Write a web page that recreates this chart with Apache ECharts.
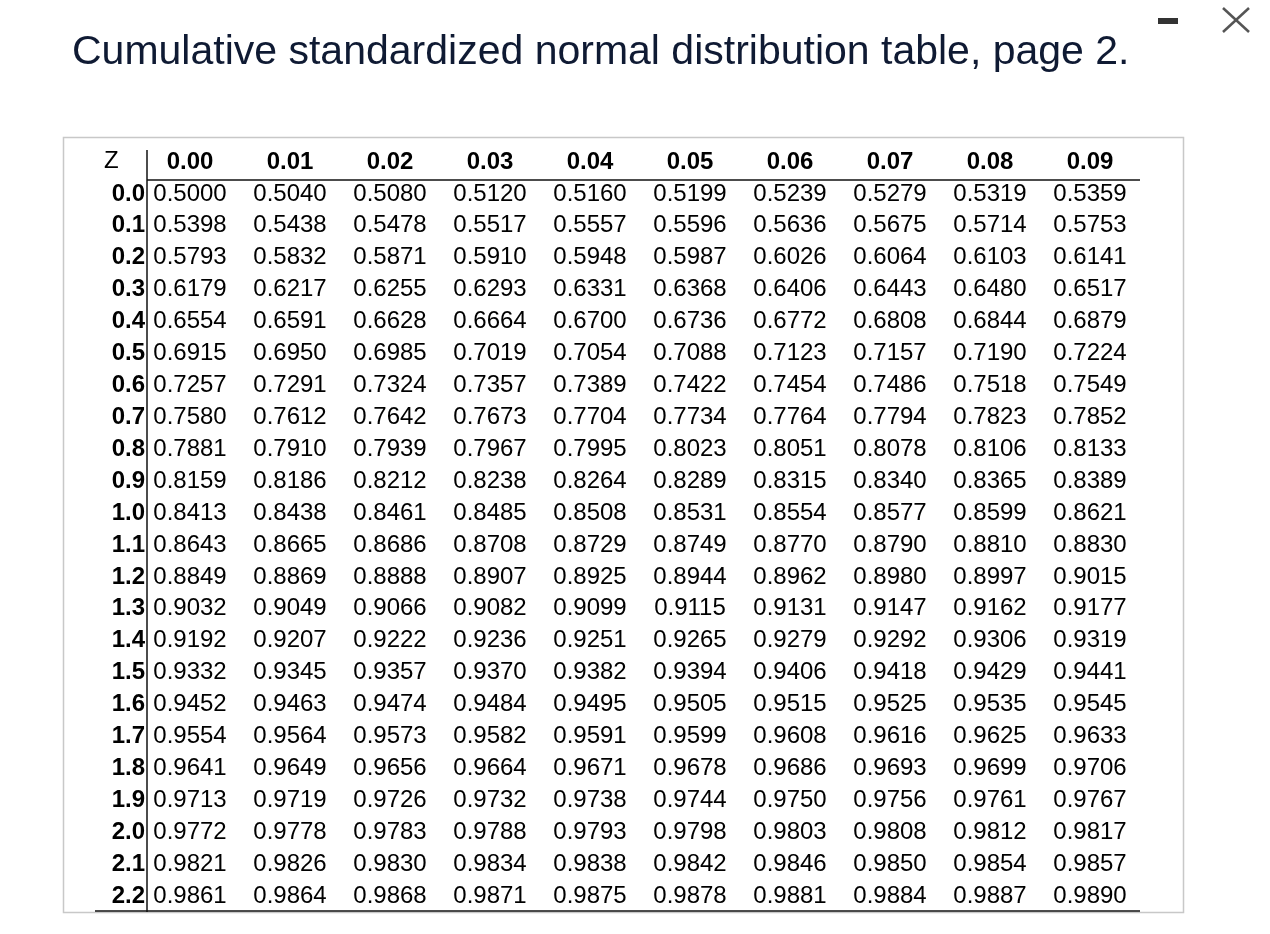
<!DOCTYPE html>
<html><head><meta charset="utf-8">
<script src="https://cdn.jsdelivr.net/npm/echarts@6/dist/echarts.min.js"></script>
<style>html,body{margin:0;padding:0;background:#fff}#c{width:1270px;height:934px}</style>
</head><body><div id="c"></div>
<script>
const colLabels = ['0.00','0.01','0.02','0.03','0.04','0.05','0.06','0.07','0.08','0.09'];
const rowLabels = ['0.0','0.1','0.2','0.3','0.4','0.5','0.6','0.7','0.8','0.9','1.0','1.1','1.2','1.3','1.4','1.5','1.6','1.7','1.8','1.9','2.0','2.1','2.2'];
const r00=[0.5000,0.5040,0.5080,0.5120,0.5160,0.5199,0.5239,0.5279,0.5319,0.5359];
const r01=[0.5398,0.5438,0.5478,0.5517,0.5557,0.5596,0.5636,0.5675,0.5714,0.5753];
const r02=[0.5793,0.5832,0.5871,0.5910,0.5948,0.5987,0.6026,0.6064,0.6103,0.6141];
const r03=[0.6179,0.6217,0.6255,0.6293,0.6331,0.6368,0.6406,0.6443,0.6480,0.6517];
const r04=[0.6554,0.6591,0.6628,0.6664,0.6700,0.6736,0.6772,0.6808,0.6844,0.6879];
const r05=[0.6915,0.6950,0.6985,0.7019,0.7054,0.7088,0.7123,0.7157,0.7190,0.7224];
const r06=[0.7257,0.7291,0.7324,0.7357,0.7389,0.7422,0.7454,0.7486,0.7518,0.7549];
const r07=[0.7580,0.7612,0.7642,0.7673,0.7704,0.7734,0.7764,0.7794,0.7823,0.7852];
const r08=[0.7881,0.7910,0.7939,0.7967,0.7995,0.8023,0.8051,0.8078,0.8106,0.8133];
const r09=[0.8159,0.8186,0.8212,0.8238,0.8264,0.8289,0.8315,0.8340,0.8365,0.8389];
const r10=[0.8413,0.8438,0.8461,0.8485,0.8508,0.8531,0.8554,0.8577,0.8599,0.8621];
const r11=[0.8643,0.8665,0.8686,0.8708,0.8729,0.8749,0.8770,0.8790,0.8810,0.8830];
const r12=[0.8849,0.8869,0.8888,0.8907,0.8925,0.8944,0.8962,0.8980,0.8997,0.9015];
const r13=[0.9032,0.9049,0.9066,0.9082,0.9099,0.9115,0.9131,0.9147,0.9162,0.9177];
const r14=[0.9192,0.9207,0.9222,0.9236,0.9251,0.9265,0.9279,0.9292,0.9306,0.9319];
const r15=[0.9332,0.9345,0.9357,0.9370,0.9382,0.9394,0.9406,0.9418,0.9429,0.9441];
const r16=[0.9452,0.9463,0.9474,0.9484,0.9495,0.9505,0.9515,0.9525,0.9535,0.9545];
const r17=[0.9554,0.9564,0.9573,0.9582,0.9591,0.9599,0.9608,0.9616,0.9625,0.9633];
const r18=[0.9641,0.9649,0.9656,0.9664,0.9671,0.9678,0.9686,0.9693,0.9699,0.9706];
const r19=[0.9713,0.9719,0.9726,0.9732,0.9738,0.9744,0.9750,0.9756,0.9761,0.9767];
const r20=[0.9772,0.9778,0.9783,0.9788,0.9793,0.9798,0.9803,0.9808,0.9812,0.9817];
const r21=[0.9821,0.9826,0.9830,0.9834,0.9838,0.9842,0.9846,0.9850,0.9854,0.9857];
const r22=[0.9861,0.9864,0.9868,0.9871,0.9875,0.9878,0.9881,0.9884,0.9887,0.9890];
const rows=[r00,r01,r02,r03,r04,r05,r06,r07,r08,r09,r10,r11,r12,r13,r14,r15,r16,r17,r18,r19,r20,r21,r22];
const data=[];
rows.forEach((r,i)=>r.forEach((v,j)=>data.push([j,i,v])));
const F='Helvetica, Arial, "Liberation Sans", sans-serif';
const chart=echarts.init(document.getElementById('c'));
chart.setOption({
  animation:false,
  title:{text:'Cumulative standardized normal distribution table, page 2.',left:67,top:27,
    textStyle:{fontFamily:F,fontSize:41,fontWeight:'normal',color:'#0f1a33'}},
  grid:{left:140,width:1000,top:178,height:734},
  xAxis:{type:'category',data:colLabels,position:'top',
    axisLine:{show:false},axisTick:{show:false},
    axisLabel:{fontFamily:F,fontSize:24,fontWeight:'bold',color:'#000',margin:4}},
  yAxis:{type:'category',data:rowLabels,inverse:true,
    axisLine:{show:false},axisTick:{show:false},
    axisLabel:{fontFamily:F,fontSize:24,fontWeight:'bold',color:'#000',margin:-5}},
  series:[{type:'scatter',data:data,symbolSize:0,itemStyle:{opacity:1},
    label:{show:true,position:'inside',fontFamily:F,fontSize:24,fontWeight:'normal',color:'#000',opacity:1,
      formatter:p=>p.value[2].toFixed(4)}}],
  graphic:[
    {type:'rect',shape:{x:63.5,y:137.5,width:1120,height:775},style:{fill:'none',stroke:'#c8c8c8',lineWidth:1.5}},
    {type:'line',shape:{x1:147,y1:150,x2:147,y2:912},style:{stroke:'#111',lineWidth:1.5}},
    {type:'line',shape:{x1:147,y1:180,x2:1140,y2:180},style:{stroke:'#111',lineWidth:1.5}},
    {type:'line',shape:{x1:95,y1:911,x2:1140,y2:911},style:{stroke:'#111',lineWidth:1.5}},
    {type:'text',left:104,top:149,style:{text:'Z',font:'24px '+F,fill:'#000'}},
    {type:'rect',shape:{x:1158,y:18,width:20,height:6},style:{fill:'#333'}},
    {type:'line',shape:{x1:1223,y1:8,x2:1249,y2:32},style:{stroke:'#555',lineWidth:2.5}},
    {type:'line',shape:{x1:1249,y1:8,x2:1223,y2:32},style:{stroke:'#555',lineWidth:2.5}}
  ]
});
</script></body></html>
